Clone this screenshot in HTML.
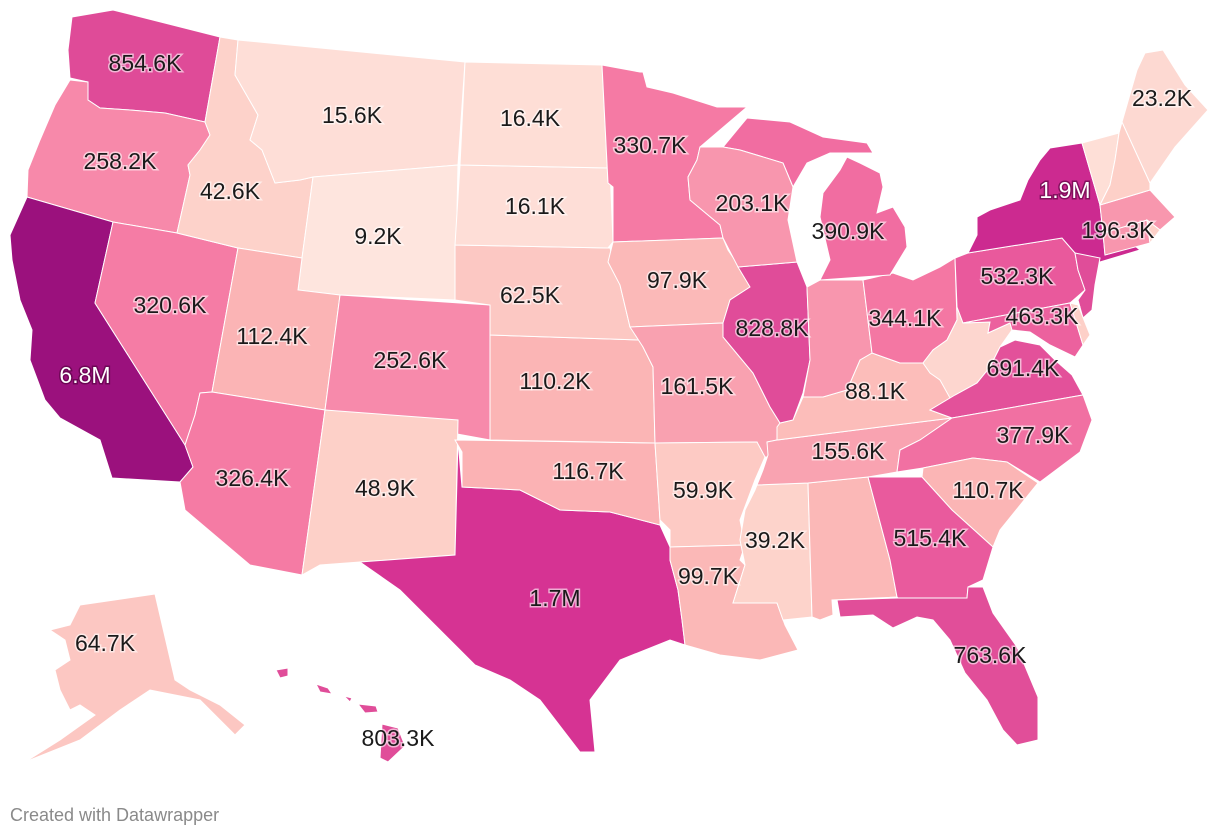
<!DOCTYPE html>
<html><head><meta charset="utf-8"><style>
body{margin:0;background:#fff;width:1220px;height:840px;overflow:hidden;font-family:"Liberation Sans",sans-serif}
svg{position:absolute;left:0;top:0}
.lbl{font:23px "Liberation Sans",sans-serif;fill:#1a1a1a;stroke:rgba(255,255,255,0.6);stroke-width:3px;paint-order:stroke;text-anchor:middle;dominant-baseline:middle}
.lbl.dark{fill:#fff;stroke:rgba(80,0,60,0.6)}
#foot{position:absolute;left:10px;top:805px;font-size:18px;color:#8a8a8a}
</style></head><body>
<svg id="map" width="1220" height="840"></svg>
<div id="foot">Created with Datawrapper</div>
<script>
const states=["WA","OR","CA","NV","ID","MT","WY","UT","CO","AZ","NM","TX","OK","KS","NE","SD","ND","MN","IA","MO","AR","LA","MS","AL","TN","KY","IL","IN","OH","MI","WI","WV","PA","NY","VA","NC","SC","GA","FL","NJ","MD","DE","CT","MA","RI","VT","NH","ME","AK","HI"];
const values=[854.6,258.2,6800,320.6,42.6,15.6,9.2,112.4,252.6,326.4,48.9,1700,116.7,110.2,62.5,16.1,16.4,330.7,97.9,161.5,59.9,99.7,39.2,100,155.6,88.1,828.8,200,344.1,390.9,203.1,30,532.3,1900,691.4,377.9,110.7,515.4,763.6,800,463.3,50,200,196.3,50,15,50,23.2,64.7,803.3];
const labels=["854.6K","258.2K","6.8M","320.6K","42.6K","15.6K","9.2K","112.4K","252.6K","326.4K","48.9K","1.7M","116.7K","110.2K","62.5K","16.1K","16.4K","330.7K","97.9K","161.5K","59.9K","99.7K","39.2K","","155.6K","88.1K","828.8K","","344.1K","390.9K","203.1K","","532.3K","1.9M","691.4K","377.9K","110.7K","515.4K","763.6K","","463.3K","","","196.3K","","","","23.2K","64.7K","803.3K"];
const shapes={
WA:[[[72,17],[113,10],[220,37],[205,122],[165,113],[130,110],[100,108],[88,100],[88,82],[70,78],[68,50]]],
OR:[[[70,80],[88,82],[88,100],[100,108],[130,110],[165,113],[205,122],[210,135],[200,150],[188,165],[190,175],[177,233],[113,222],[27,197],[28,170],[40,140],[55,105]]],
CA:[[[27,197],[113,222],[95,303],[185,445],[193,467],[180,482],[112,478],[100,440],[60,418],[45,400],[30,360],[32,330],[20,300],[12,260],[10,235]]],
NV:[[[113,222],[177,233],[238,248],[212,392],[200,393],[195,415],[185,445],[95,303]]],
ID:[[[220,37],[238,40],[235,75],[258,115],[250,140],[262,150],[275,183],[300,180],[313,177],[302,258],[238,248],[177,233],[190,175],[188,165],[200,150],[210,135],[205,122]]],
MT:[[[238,40],[465,62],[458,165],[313,177],[300,180],[275,183],[262,150],[250,140],[258,115],[235,75]]],
WY:[[[313,177],[458,165],[455,300],[340,295],[298,290],[302,258]]],
UT:[[[238,248],[302,258],[298,290],[340,295],[325,410],[212,392]]],
CO:[[[340,295],[490,305],[490,440],[325,410]]],
AZ:[[[212,392],[325,410],[302,575],[250,565],[185,510],[180,482],[193,467],[185,445],[195,415],[200,393]]],
NM:[[[325,410],[458,420],[455,555],[360,562],[320,565],[302,575]]],
TX:[[[458,440],[462,487],[520,490],[560,510],[610,512],[660,525],[670,547],[670,560],[678,590],[682,620],[685,645],[670,640],[620,660],[590,700],[595,752],[580,752],[540,700],[510,680],[475,665],[450,640],[400,590],[360,562],[455,555]]],
OK:[[[455,440],[655,443],[660,520],[660,525],[610,512],[560,510],[520,490],[462,487],[462,452]]],
KS:[[[490,335],[640,340],[643,347],[653,367],[655,443],[490,440]]],
NE:[[[455,245],[610,248],[620,285],[630,327],[640,340],[490,335],[490,305],[455,300]]],
SD:[[[460,165],[610,168],[613,242],[608,248],[455,245]]],
ND:[[[465,62],[602,65],[608,183],[610,168],[460,165]]],
MN:[[[602,65],[640,72],[643,72],[647,87],[673,93],[717,107],[747,107],[700,147],[697,160],[688,177],[690,200],[720,225],[723,238],[613,242],[613,187],[608,183]]],
IA:[[[613,242],[723,238],[728,250],[745,275],[750,287],[730,300],[723,323],[630,327],[620,285],[608,262]]],
MO:[[[630,327],[723,323],[723,337],[753,373],[770,407],[780,423],[777,440],[767,442],[770,457],[760,457],[757,442],[655,443],[653,367],[643,347]]],
AR:[[[655,443],[757,442],[765,457],[755,480],[740,520],[745,545],[670,547],[670,530],[660,520]]],
LA:[[[670,547],[745,545],[740,560],[745,565],[733,603],[777,603],[785,625],[798,650],[760,660],[720,655],[685,645],[682,620],[678,590],[670,560]]],
MS:[[[757,485],[808,483],[812,617],[783,620],[777,603],[733,603],[745,565],[740,540],[745,510],[755,490]]],
AL:[[[808,483],[868,477],[890,560],[897,597],[832,600],[833,615],[820,620],[812,617]]],
TN:[[[767,442],[777,440],[952,418],[920,440],[900,450],[897,472],[868,477],[808,483],[757,485],[763,470],[768,455]]],
KY:[[[780,423],[793,420],[803,397],[823,397],[847,390],[860,360],[872,353],[900,363],[923,363],[940,380],[955,395],[930,410],[952,418],[777,440],[777,427]]],
IL:[[[738,267],[797,262],[807,287],[810,360],[803,393],[793,420],[780,423],[770,407],[753,373],[723,337],[723,323],[730,300],[750,287]]],
IN:[[[807,287],[820,280],[863,280],[872,353],[860,360],[847,390],[823,397],[803,397],[810,360]]],
OH:[[[863,280],[893,273],[913,280],[940,267],[955,258],[957,320],[947,340],[933,350],[923,363],[900,363],[872,353]]],
MI:[[[820,280],[890,275],[907,247],[905,227],[893,207],[877,213],[883,187],[880,173],[860,163],[847,157],[840,170],[823,193],[820,217],[830,260]],[[723,147],[747,118],[790,122],[823,137],[867,143],[873,153],[830,153],[807,163],[793,187],[783,163],[740,150]]],
WI:[[[700,147],[723,147],[740,150],[783,163],[793,187],[788,220],[797,262],[738,267],[723,238],[720,225],[690,200],[688,177],[697,160]]],
WV:[[[957,307],[963,323],[990,322],[988,333],[1010,323],[1012,330],[1000,347],[990,367],[977,383],[950,398],[940,380],[930,373],[923,363],[933,350],[947,340],[957,320]]],
PA:[[[955,258],[968,253],[1062,238],[1075,253],[1078,270],[1085,290],[1070,303],[963,323],[957,307]]],
NY:[[[968,253],[977,235],[977,217],[990,210],[1020,200],[1028,180],[1040,160],[1050,148],[1082,143],[1100,205],[1103,233],[1105,255],[1135,246],[1140,250],[1100,262],[1075,253],[1062,238]]],
VA:[[[930,410],[955,395],[977,383],[990,367],[1000,347],[1015,340],[1040,345],[1055,360],[1072,375],[1083,395],[952,418]]],
NC:[[[952,418],[1083,395],[1092,420],[1080,452],[1040,482],[1007,462],[973,458],[923,468],[897,472],[900,450],[920,440]]],
SC:[[[923,468],[973,458],[1007,462],[1038,483],[1000,530],[993,547],[952,510],[922,477]]],
GA:[[[868,477],[922,477],[952,510],[993,547],[983,580],[968,587],[967,598],[898,598],[897,597],[890,560]]],
FL:[[[837,600],[898,598],[967,598],[968,587],[983,587],[993,613],[1017,647],[1038,697],[1038,740],[1017,745],[1003,730],[987,700],[965,673],[950,640],[933,620],[917,617],[893,628],[873,615],[840,617]]],
NJ:[[[1075,253],[1100,258],[1095,285],[1092,310],[1083,318],[1078,300],[1085,290],[1078,270]]],
MD:[[[963,323],[1070,303],[1083,345],[1075,357],[1050,345],[1030,332],[1012,330],[1010,323],[988,333],[990,322]]],
DE:[[[1070,303],[1078,305],[1090,335],[1083,345]]],
CT:[[[1103,233],[1147,220],[1150,243],[1105,255]]],
MA:[[[1100,205],[1150,190],[1175,217],[1160,230],[1147,220],[1103,233]]],
RI:[[[1147,220],[1160,230],[1150,243]]],
VT:[[[1082,143],[1119,133],[1115,160],[1110,185],[1100,205]]],
NH:[[[1119,133],[1122,122],[1150,183],[1150,190],[1100,205],[1110,185],[1115,160]]],
ME:[[[1122,122],[1137,70],[1145,53],[1163,50],[1185,85],[1208,110],[1175,147],[1150,183]]],
AK:[[[80,605],[155,594],[175,680],[190,690],[220,705],[245,725],[235,735],[200,700],[150,690],[120,710],[80,740],[25,762],[60,740],[95,715],[80,705],[70,710],[60,690],[55,670],[70,660],[65,640],[50,630],[70,625]]],
HI:[[[276,670],[288,668],[288,676],[280,678]],[[316,684],[328,688],[332,694],[320,692]],[[344,696],[352,698],[350,702]],[[358,704],[376,706],[378,712],[365,713]],[[382,724],[398,728],[405,746],[388,762],[380,758]]]
};
const lpos={WA:[145,65],OR:[120,163],CA:[85,377],NV:[170,307],ID:[230,193],MT:[352,117],WY:[378,238],UT:[272,338],CO:[410,362],AZ:[252,480],NM:[385,490],TX:[555,600],OK:[588,473],KS:[555,383],NE:[530,297],SD:[535,208],ND:[530,120],MN:[650,147],IA:[677,282],MO:[697,388],AR:[703,492],LA:[708,578],MS:[775,542],TN:[848,453],KY:[875,393],IL:[772,330],OH:[905,320],MI:[848,233],WI:[752,205],PA:[1017,278],NY:[1065,192],VA:[1023,370],NC:[1033,437],SC:[988,492],GA:[930,540],FL:[990,657],MD:[1042,318],MA:[1118,232],ME:[1162,100],AK:[105,645],HI:[398,740]};
const stopV=[9,50,110,250,330,500,800,1700,1900,6800];
const stopC=["#fee5de","#fdd0c8","#fbb5b5","#f78bab","#f57aa4","#ea5b9d","#e04d99","#d63393","#cc2a90","#9b117d"];
function hex(c){return[1,3,5].map(i=>parseInt(c.substr(i,2),16));}
function color(v){
  const l=Math.log(v);
  if(v<=stopV[0])return stopC[0];
  for(let i=1;i<stopV.length;i++){
    if(v<=stopV[i]){const a=Math.log(stopV[i-1]),b=Math.log(stopV[i]);const t=(l-a)/(b-a);
      const c1=hex(stopC[i-1]),c2=hex(stopC[i]);return "rgb("+c1.map((x,k)=>Math.round(x+(c2[k]-x)*t)).join(",")+")";}
  }
  return stopC[stopC.length-1];
}
const svg=document.getElementById('map');const NS="http://www.w3.org/2000/svg";
const gS=document.createElementNS(NS,'g');svg.appendChild(gS);
const gL=document.createElementNS(NS,'g');svg.appendChild(gL);
states.forEach((s,i)=>{
  const p=document.createElementNS(NS,'path');
  p.setAttribute('d',shapes[s].map(r=>'M'+r.map(q=>q.join(',')).join('L')+'Z').join(''));
  p.setAttribute('fill',color(values[i]));
  p.setAttribute('stroke','#fff');p.setAttribute('stroke-width','1');
  
  
  gS.appendChild(p);
  if(labels[i]&&lpos[s]){
    const t=document.createElementNS(NS,'text');
    t.setAttribute('x',lpos[s][0]);t.setAttribute('y',lpos[s][1]);
    t.setAttribute('class',values[i]>=1800?'lbl dark':'lbl');t.textContent=labels[i];
    
    
    gL.appendChild(t);
  }
});
</script>
</body></html>
